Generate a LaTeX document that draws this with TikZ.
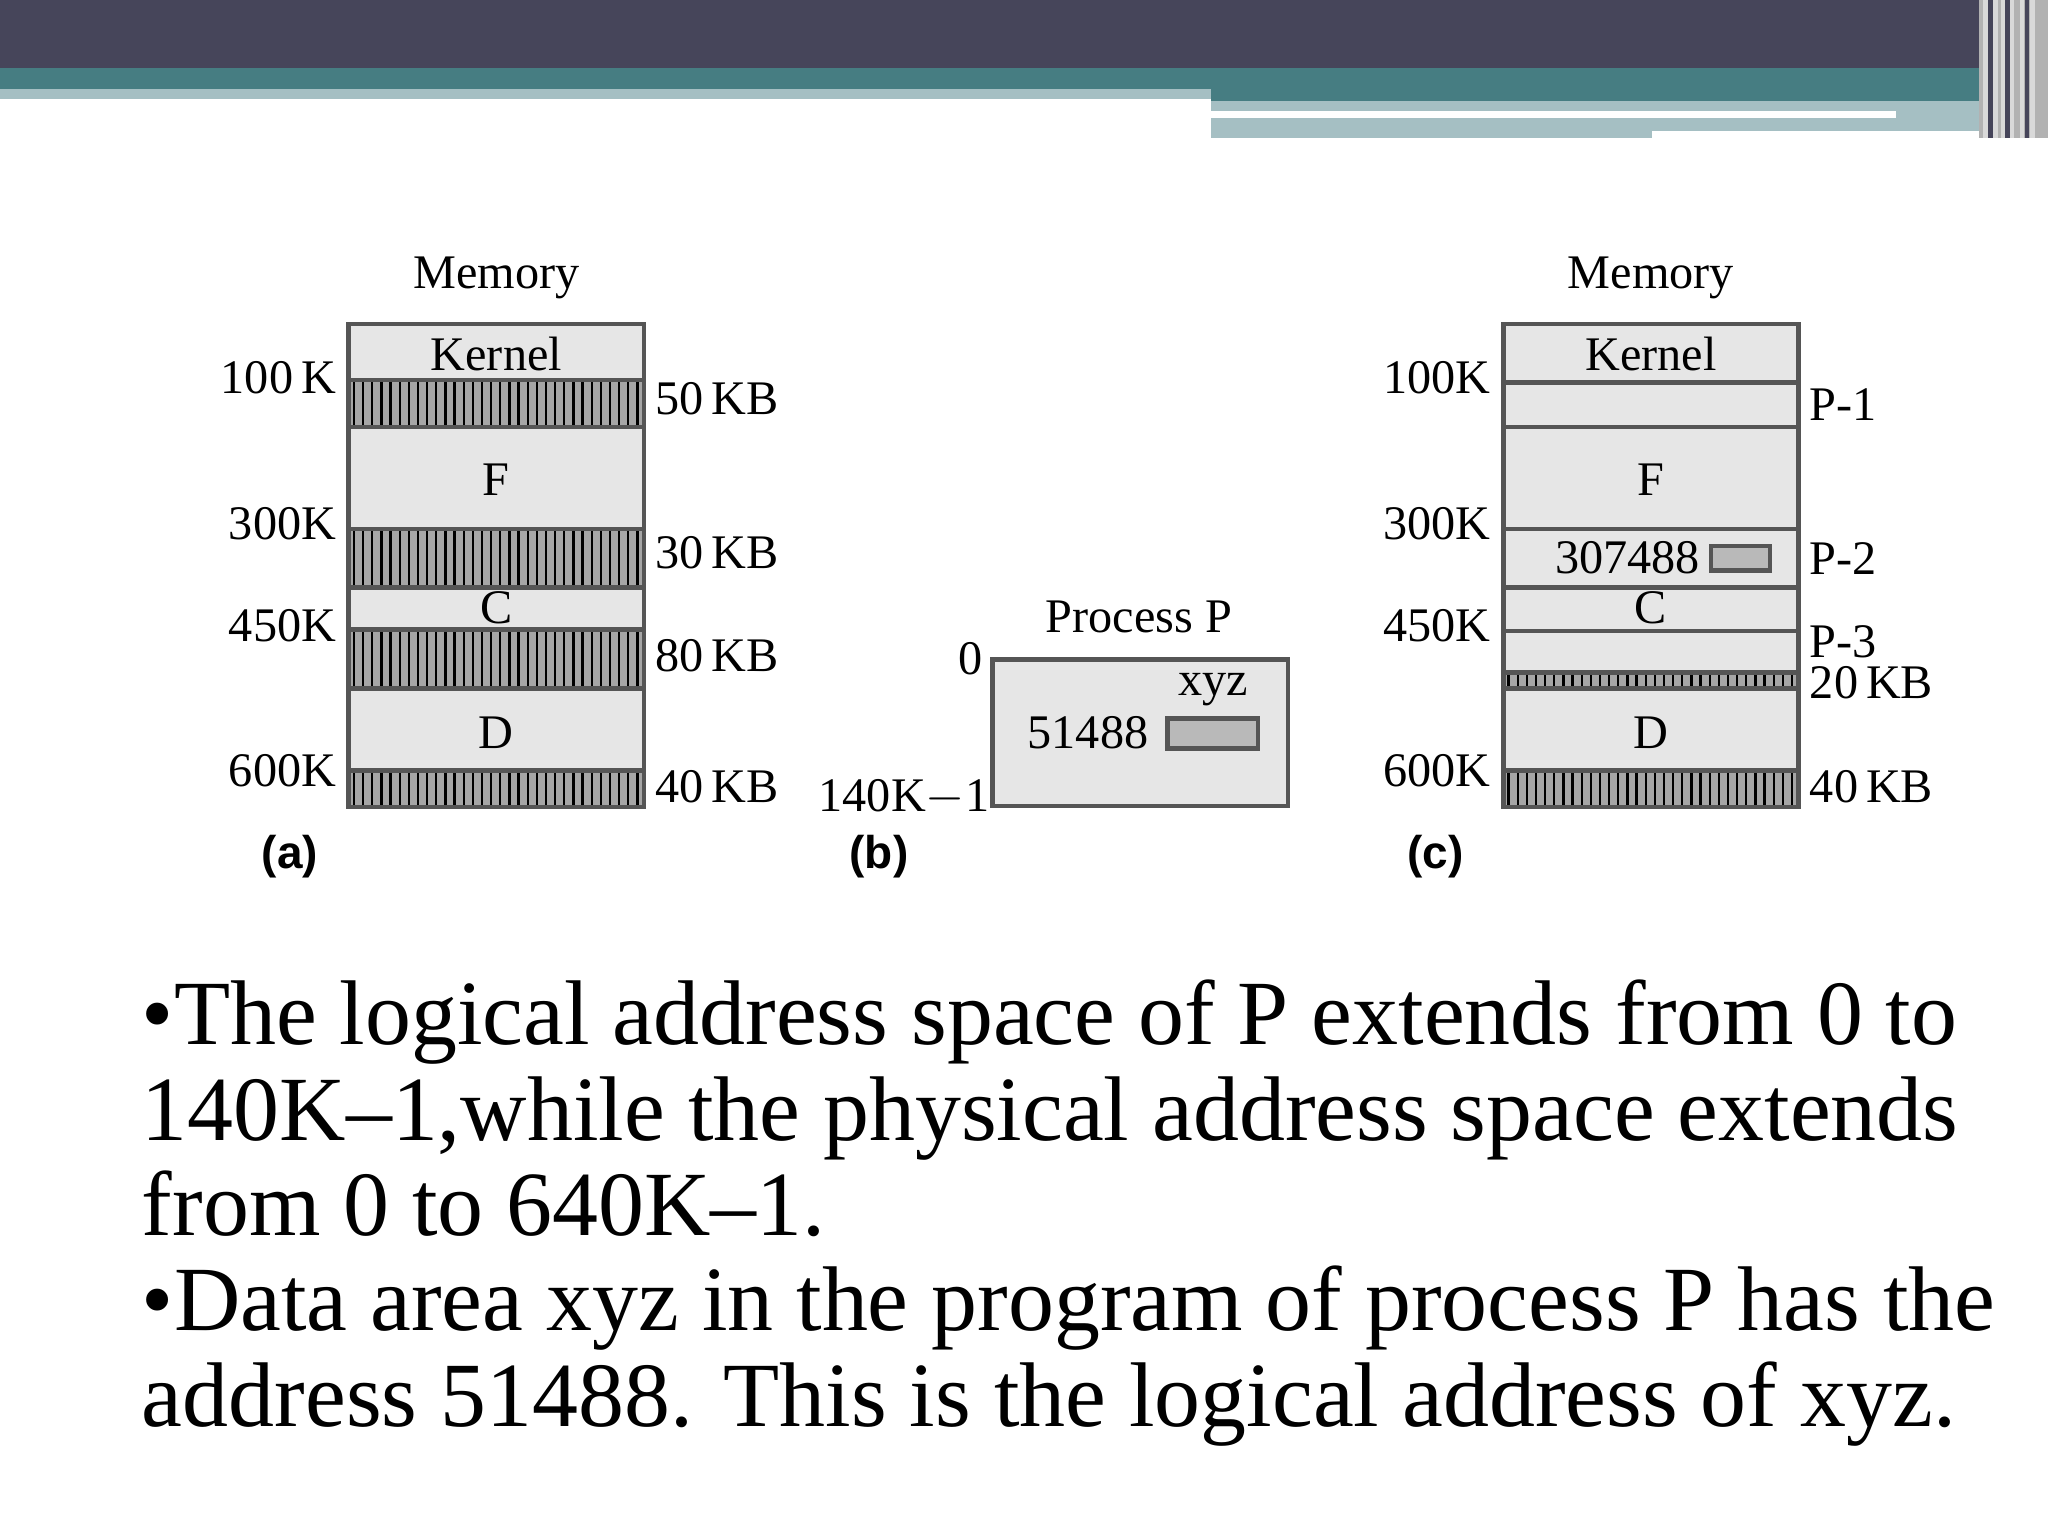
\documentclass[tikz,border=0pt]{standalone}
\usepackage{fontspec}
\setmainfont{Liberation Serif}
\setsansfont{Liberation Sans}
\definecolor{dark}{HTML}{46455A}
\definecolor{teal}{HTML}{467D82}
\definecolor{lite}{HTML}{A5BFC3}
\definecolor{cell}{HTML}{E6E6E6}
\definecolor{bord}{HTML}{555555}
\newcommand{\hatchrow}[3]{% x1, y1, y2
  \fill[gray!70] (#1,#2) rectangle ({#1+226},#3);
  \foreach \i in {0,...,31} {\draw[black,line width=0.5pt] ({#1+4+\i*7},#2) -- ({#1+4+\i*7},#3);}
  \draw[bord,line width=1pt] (#1,#2) -- ({#1+226},#2) (#1,#3) -- ({#1+226},#3);
}
\tikzset{lab/.style={font=\fontsize{10.5}{12}\selectfont,inner sep=0pt},
  tag/.style={font=\sffamily\bfseries\fontsize{10}{12}\selectfont,inner sep=0pt},
  body/.style={font=\fontsize{20}{24}\selectfont,anchor=base west,inner sep=0pt}}
\begin{document}
\begin{tikzpicture}[x=0.01cm,y=-0.01cm]
\useasboundingbox (0,0) rectangle (1568,1176);
% header
\fill[dark] (0,0) rectangle (1568,52);
\fill[teal] (0,52) rectangle (1568,68);
\fill[lite] (0,68) rectangle (927,76);
\fill[teal] (927,68) rectangle (1540,77);
\fill[lite] (927,77) rectangle (1540,106);
\fill[white] (927,85) rectangle (1452,90);
\fill[white] (1265,100) rectangle (1540,106);
\fill[gray!60] (1515,0) rectangle (1568,106);
\foreach \x in {1520,1528,1534,1540,1548,1556} {\draw[white!70!gray,line width=1pt] (\x,0) -- (\x,106);}
\foreach \x in {1524,1537,1552} {\draw[dark,line width=1pt] (\x,0) -- (\x,106);}
% (a)
\fill[cell] (267,248) rectangle (493,618);
\hatchrow{267}{291}{327}
\hatchrow{267}{405}{450}
\hatchrow{267}{482}{527}
\hatchrow{267}{590}{618}
\draw[bord,line width=1pt] (267,248) rectangle (493,618);
\node[lab] (amem) at (380,213) {Memory};
\node[lab] (ak) at (380,271) {Kernel};
\node[lab] (af) at (380,367) {F};
\node[lab] (ac) at (380,465) {C};
\node[lab] (ad) at (380,561) {D};
\node[lab,anchor=east] (a1) at (258,289) {100\,K};
\node[lab,anchor=east] (a2) at (258,401) {300K};
\node[lab,anchor=east] (a3) at (258,479) {450K};
\node[lab,anchor=east] (a4) at (258,590) {600K};
\node[lab,anchor=west] (a5) at (501,305) {50\,KB};
\node[lab,anchor=west] (a6) at (501,423) {30\,KB};
\node[lab,anchor=west] (a7) at (501,502) {80\,KB};
\node[lab,anchor=west] (a8) at (501,602) {40\,KB};
\node[tag] (ta) at (222,656) {(a)};
% (b)
\draw[bord,fill=cell,line width=1pt] (760,505) rectangle (986,617);
\draw[bord,fill=gray!55,line width=1pt] (894,550) rectangle (963,573);
\node[lab] (bp) at (872,472) {Process P};
\node[lab] (b0) at (743,504) {0};
\node[lab,anchor=east] (b1) at (758,611) {140K$-$1};
\node[lab] (bx) at (929,528) {xyz};
\node[lab] (bn) at (833,561) {51488};
\node[tag] (tb) at (673,656) {(b)};
% (c)
\fill[cell] (1151,248) rectangle (1377,618);
\fill[gray!70] (1151,515) rectangle (1377,527);
\foreach \i in {0,...,31} {\draw[black,line width=0.5pt] ({1155+\i*7},515) -- ({1155+\i*7},527);}
\hatchrow{1151}{590}{618}
\foreach \y in {293,327,405,450,483,515,527} {\draw[bord,line width=1pt] (1151,\y) -- (1377,\y);}
\draw[bord,line width=1pt] (1151,248) rectangle (1377,618);
\draw[bord,fill=gray!55,line width=1pt] (1310,418) rectangle (1355,437);
\node[lab] (cmem) at (1264,213) {Memory};
\node[lab] (ck) at (1264,271) {Kernel};
\node[lab] (cf) at (1264,367) {F};
\node[lab] (cc) at (1264,465) {C};
\node[lab] (cd) at (1264,561) {D};
\node[lab] (cn) at (1246,427) {307488};
\node[lab,anchor=east] (c1) at (1142,289) {100K};
\node[lab,anchor=east] (c2) at (1142,401) {300K};
\node[lab,anchor=east] (c3) at (1142,479) {450K};
\node[lab,anchor=east] (c4) at (1142,590) {600K};
\node[lab,anchor=west] (c5) at (1385,310) {P-1};
\node[lab,anchor=west] (c6) at (1385,428) {P-2};
\node[lab,anchor=west] (c7) at (1385,491) {P-3};
\node[lab,anchor=west] (c8) at (1385,523) {20\,KB};
\node[lab,anchor=west] (c9) at (1385,602) {40\,KB};
\node[tag] (tc) at (1099,656) {(c)};
% body
\node[body] (l1) at (108,800) {•The logical address space of P extends from 0 to};
\node[body] (l2) at (108,873) {140K–1,while the physical address space extends};
\node[body] (l3) at (108,946) {from 0 to 640K–1.};
\node[body] (l4) at (108,1019) {•Data area xyz in the program of process P has the};
\node[body] (l5) at (108,1092) {address 51488. This is the logical address of xyz.};
\end{tikzpicture}
\end{document}
